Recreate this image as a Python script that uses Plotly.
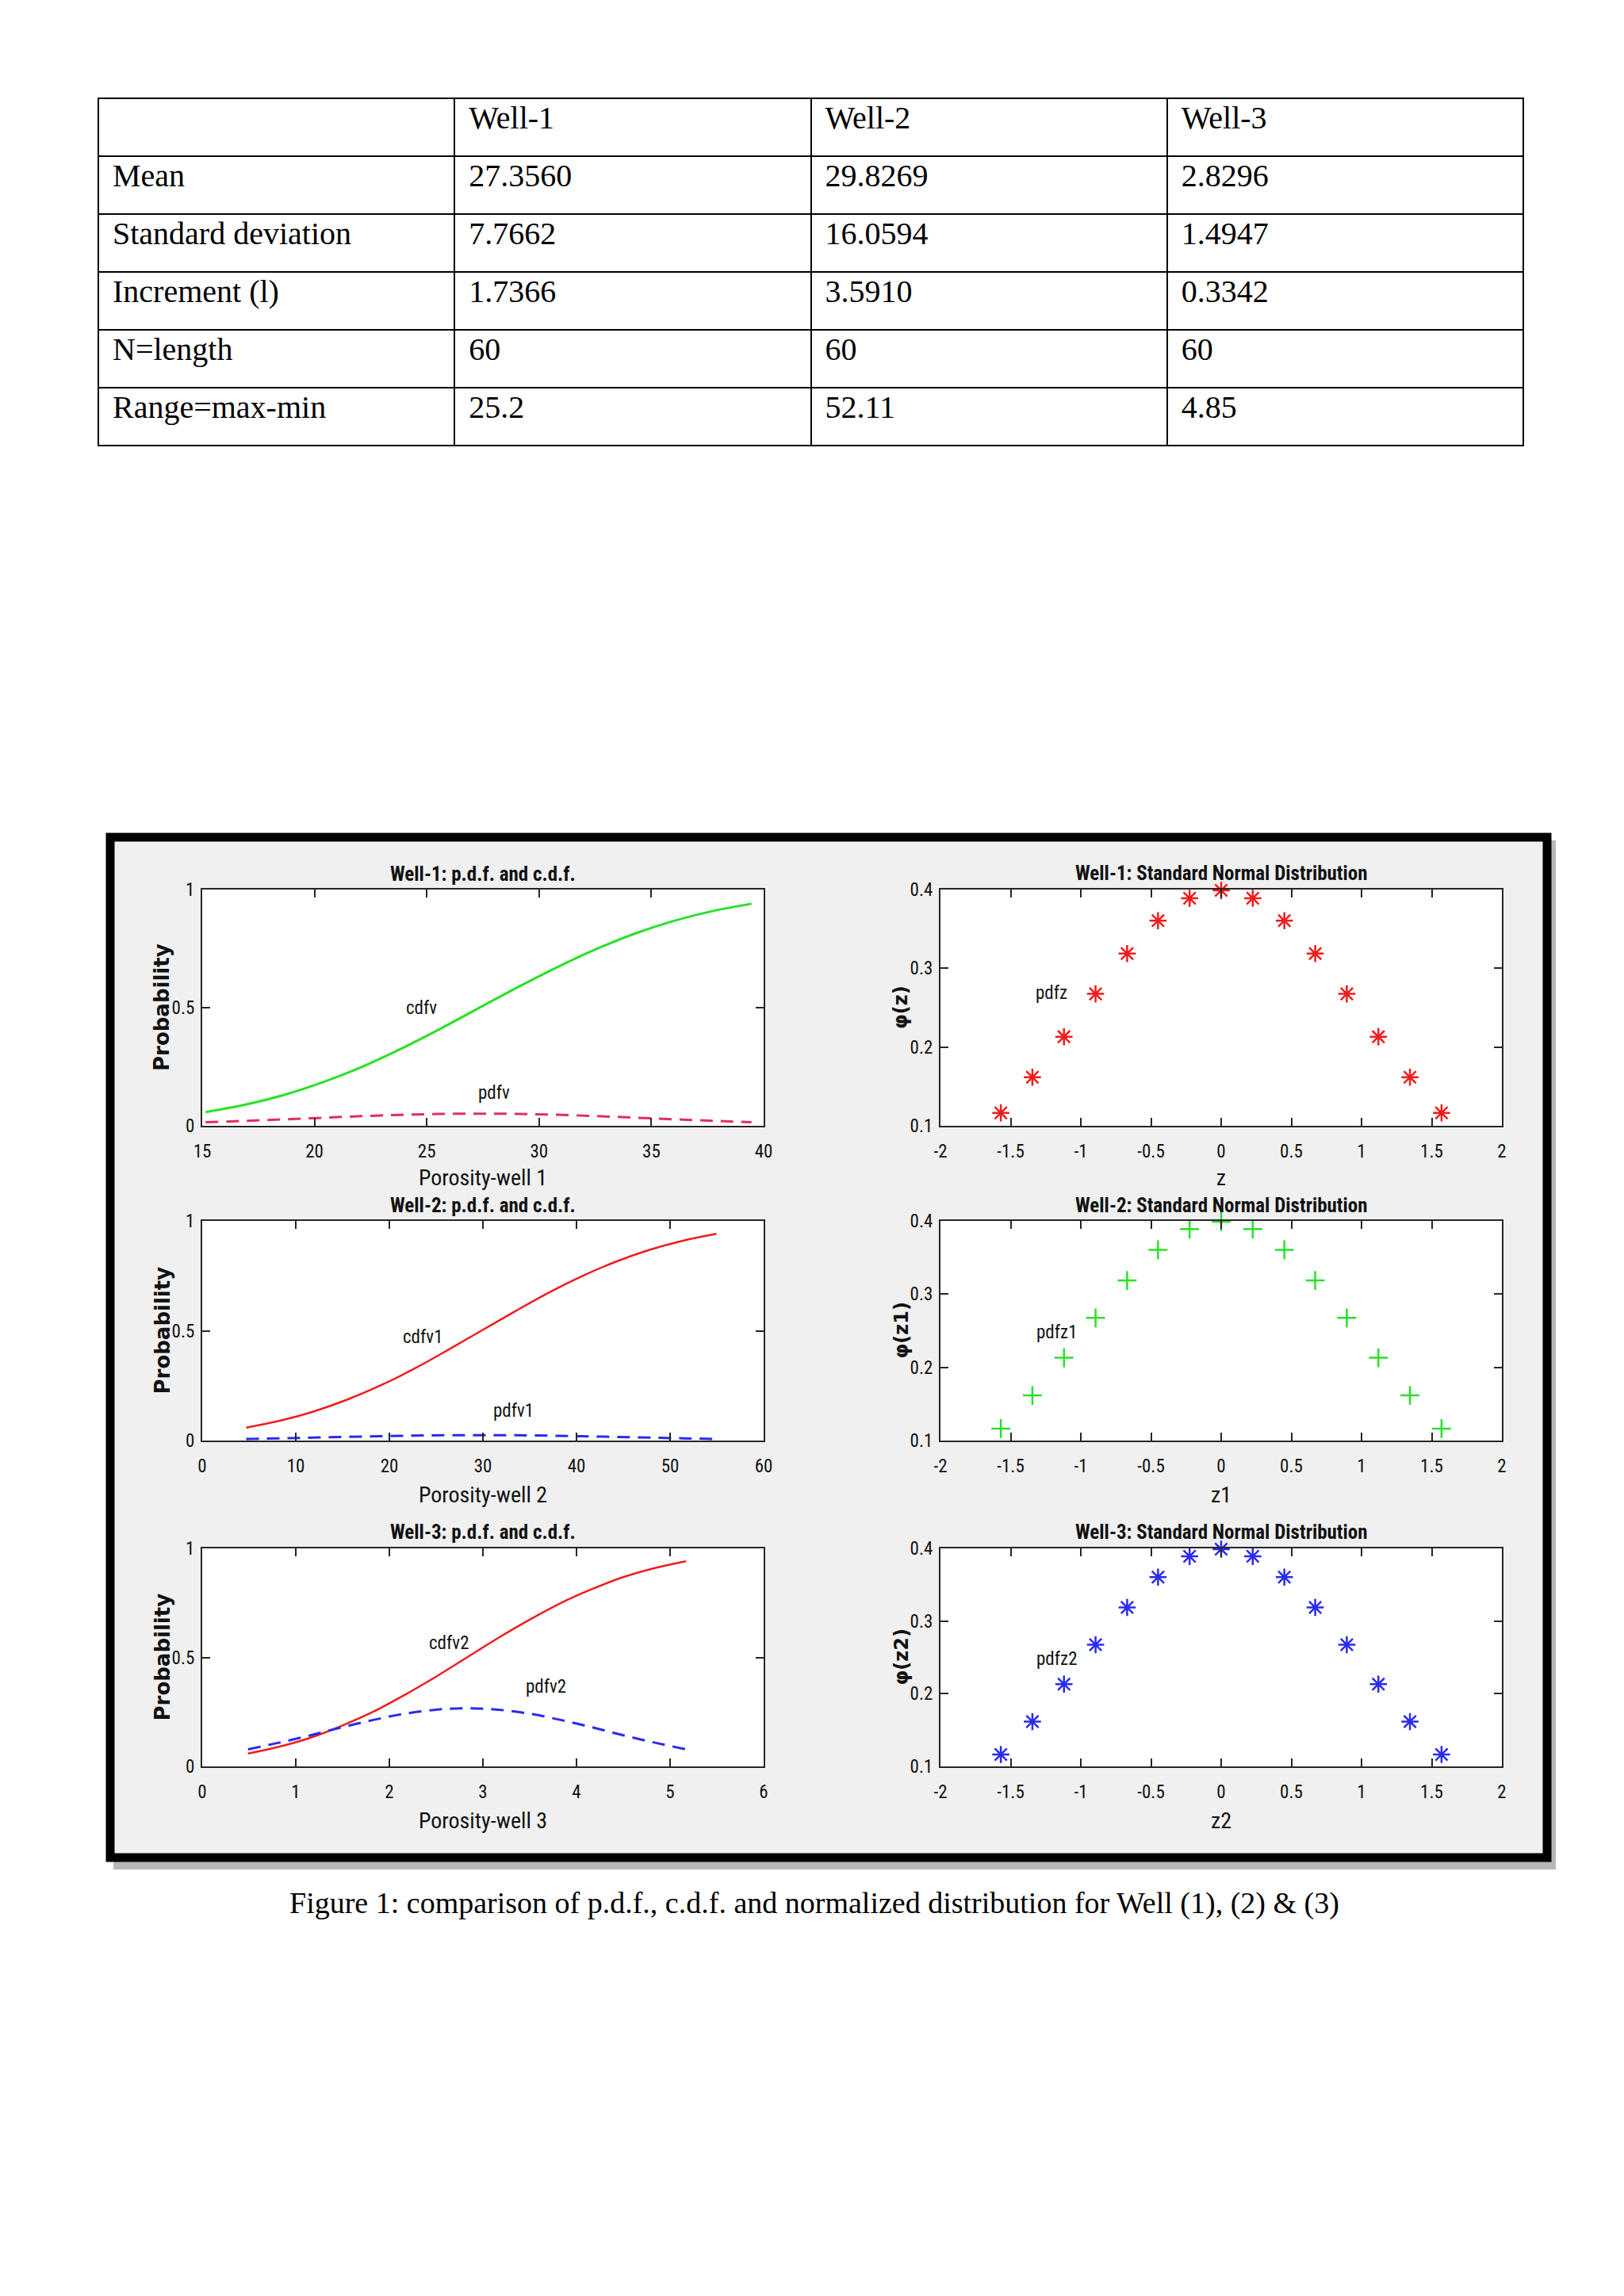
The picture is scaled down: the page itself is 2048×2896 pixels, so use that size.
import plotly.graph_objects as go

W, H = 2048, 2896

# ---------------- data ----------------
table_header = ["", "Well-1", "Well-2", "Well-3"]
row_labels = ["Mean", "Standard deviation", "Increment (l)", "N=length", "Range=max-min"]
well1_stats = ["27.3560", "7.7662", "1.7366", "60", "25.2"]
well2_stats = ["29.8269", "16.0594", "3.5910", "60", "52.11"]
well3_stats = ["2.8296", "1.4947", "0.3342", "60", "4.85"]

porosity1 = [15.15, 16.89, 18.62, 20.36, 22.10, 23.83, 25.57, 27.31, 29.04, 30.78, 32.52, 34.25, 35.99, 37.73, 39.46]
cdfv = [0.058, 0.089, 0.130, 0.184, 0.249, 0.325, 0.409, 0.498, 0.586, 0.670, 0.747, 0.813, 0.867, 0.909, 0.940]
pdfv = [0.0149, 0.0207, 0.0273, 0.0342, 0.0409, 0.0463, 0.0500, 0.0514, 0.0502, 0.0466, 0.0412, 0.0346, 0.0277, 0.0210, 0.0152]

porosity2 = [4.70, 8.29, 11.88, 15.47, 19.06, 22.65, 26.24, 29.83, 33.42, 37.01, 40.60, 44.19, 47.78, 51.37, 54.96]
cdfv1 = [0.059, 0.090, 0.132, 0.186, 0.251, 0.327, 0.412, 0.500, 0.588, 0.673, 0.749, 0.814, 0.868, 0.910, 0.941]
pdfv1 = [0.0073, 0.0101, 0.0133, 0.0167, 0.0198, 0.0225, 0.0242, 0.0248, 0.0242, 0.0225, 0.0198, 0.0167, 0.0133, 0.0101, 0.0073]

porosity3 = [0.49, 0.82, 1.16, 1.49, 1.83, 2.16, 2.50, 2.83, 3.16, 3.50, 3.83, 4.17, 4.50, 4.84, 5.17]
cdfv2 = [0.059, 0.090, 0.132, 0.186, 0.251, 0.327, 0.412, 0.500, 0.588, 0.673, 0.749, 0.814, 0.868, 0.910, 0.941]
pdfv2 = [0.0785, 0.1086, 0.1428, 0.1790, 0.2131, 0.2415, 0.2603, 0.2669, 0.2603, 0.2415, 0.2131, 0.1790, 0.1428, 0.1086, 0.0785]

z = [-1.57, -1.345, -1.12, -0.895, -0.67, -0.45, -0.225, 0.0, 0.225, 0.45, 0.67, 0.895, 1.12, 1.345, 1.57]
pdfz = [0.1163, 0.1617, 0.2131, 0.2675, 0.3187, 0.3605, 0.3890, 0.3989, 0.3890, 0.3605, 0.3187, 0.2675, 0.2131, 0.1617, 0.1163]
z1 = [-1.57, -1.345, -1.12, -0.895, -0.67, -0.45, -0.225, 0.0, 0.225, 0.45, 0.67, 0.895, 1.12, 1.345, 1.57]
pdfz1 = [0.1163, 0.1617, 0.2131, 0.2675, 0.3187, 0.3605, 0.3890, 0.3989, 0.3890, 0.3605, 0.3187, 0.2675, 0.2131, 0.1617, 0.1163]
z2 = [-1.57, -1.345, -1.12, -0.895, -0.67, -0.45, -0.225, 0.0, 0.225, 0.45, 0.67, 0.895, 1.12, 1.345, 1.57]
pdfz2 = [0.1163, 0.1617, 0.2131, 0.2675, 0.3187, 0.3605, 0.3890, 0.3989, 0.3890, 0.3605, 0.3187, 0.2675, 0.2131, 0.1617, 0.1163]

prob_ticks = [0, 0.5, 1]
prob_ticklabels = ["0", "0.5", "1"]
phi_ticks = [0.1, 0.2, 0.3, 0.4]
phi_ticklabels = ["0.1", "0.2", "0.3", "0.4"]
well1_ticks = [15, 20, 25, 30, 35, 40]
well1_ticklabels = ["15", "20", "25", "30", "35", "40"]
well2_ticks = [0, 10, 20, 30, 40, 50, 60]
well2_ticklabels = ["0", "10", "20", "30", "40", "50", "60"]
well3_ticks = [0, 1, 2, 3, 4, 5, 6]
well3_ticklabels = ["0", "1", "2", "3", "4", "5", "6"]
z_ticks = [-2, -1.5, -1, -0.5, 0, 0.5, 1, 1.5, 2]
z_ticklabels = ["-2", "-1.5", "-1", "-0.5", "0", "0.5", "1", "1.5", "2"]

# ---------------- helpers ----------------
def px(x):
    return x / W

def py(y):
    return 1 - y / H

NARROW = "Roboto Condensed, Open Sans Condensed, Liberation Sans, sans-serif"
WIDE = "DejaVu Sans, sans-serif"
SERIF = "Liberation Serif, Times New Roman, serif"
AXC = "#262626"
NB = "\u00a0"

fig = go.Figure()

# table
fig.add_trace(go.Table(
    domain=dict(x=[px(124), px(1921)], y=[py(570), py(124)]),
    columnwidth=[1, 1, 1, 1],
    header=dict(values=[NB + v for v in table_header], height=73, align="left",
                line=dict(color="black", width=2), fill=dict(color="white"),
                font=dict(family=SERIF, size=40, color="black")),
    cells=dict(values=[[NB + v for v in col] for col in [row_labels, well1_stats, well2_stats, well3_stats]],
               height=73, align="left", line=dict(color="black", width=2), fill=dict(color="white"),
               font=dict(family=SERIF, size=40, color="black")),
))

boxes = {
    1: (255, 963, 1122, 1420),
    2: (1186, 1894, 1122, 1420),
    3: (255, 963, 1540, 1817),
    4: (1186, 1894, 1540, 1817),
    5: (255, 963, 1953, 2228),
    6: (1186, 1894, 1953, 2228),
}

RED = "#f01c1c"
GREEN = "#2ae02a"
BLUE = "#2a2af0"
DASH = "16px,10px"

fig.add_trace(go.Scatter(x=porosity1, y=cdfv, mode="lines", line=dict(color=GREEN, width=3, shape="spline"),
                         xaxis="x", yaxis="y", showlegend=False))
fig.add_trace(go.Scatter(x=porosity1, y=pdfv, mode="lines", line=dict(color="#e0305a", width=3, dash=DASH, shape="spline"),
                         xaxis="x", yaxis="y", showlegend=False))
fig.add_trace(go.Scatter(x=z, y=pdfz, mode="markers", cliponaxis=False,
                         marker=dict(symbol="asterisk-open", size=18, color=RED, line=dict(width=2.5, color=RED)),
                         xaxis="x2", yaxis="y2", showlegend=False))
fig.add_trace(go.Scatter(x=porosity2, y=cdfv1, mode="lines", line=dict(color=RED, width=2.5, shape="spline"),
                         xaxis="x3", yaxis="y3", showlegend=False))
fig.add_trace(go.Scatter(x=porosity2, y=pdfv1, mode="lines", line=dict(color=BLUE, width=3, dash=DASH, shape="spline"),
                         xaxis="x3", yaxis="y3", showlegend=False))
fig.add_trace(go.Scatter(x=z1, y=pdfz1, mode="markers", cliponaxis=False,
                         marker=dict(symbol="cross-thin-open", size=17, color=GREEN, line=dict(width=2.5, color=GREEN)),
                         xaxis="x4", yaxis="y4", showlegend=False))
fig.add_trace(go.Scatter(x=porosity3, y=cdfv2, mode="lines", line=dict(color=RED, width=2.5, shape="spline"),
                         xaxis="x5", yaxis="y5", showlegend=False))
fig.add_trace(go.Scatter(x=porosity3, y=pdfv2, mode="lines", line=dict(color=BLUE, width=3, dash=DASH, shape="spline"),
                         xaxis="x5", yaxis="y5", showlegend=False))
fig.add_trace(go.Scatter(x=z2, y=pdfz2, mode="markers", cliponaxis=False,
                         marker=dict(symbol="asterisk-open", size=18, color=BLUE, line=dict(width=2.5, color=BLUE)),
                         xaxis="x6", yaxis="y6", showlegend=False))

axis_common = dict(showline=True, linecolor=AXC, linewidth=2, mirror="ticks", ticks="inside",
                   ticklen=10, tickwidth=2, tickcolor=AXC, showgrid=False, zeroline=False, automargin=False,
                   tickfont=dict(family=NARROW, size=23, color="#111111"))

xcfg = {
    1: (well1_ticks, well1_ticklabels, [15, 40], "Porosity-well 1"),
    2: (z_ticks, z_ticklabels, [-2, 2], "z"),
    3: (well2_ticks, well2_ticklabels, [0, 60], "Porosity-well 2"),
    4: (z_ticks, z_ticklabels, [-2, 2], "z1"),
    5: (well3_ticks, well3_ticklabels, [0, 6], "Porosity-well 3"),
    6: (z_ticks, z_ticklabels, [-2, 2], "z2"),
}
ycfg = {
    1: (prob_ticks, prob_ticklabels, [0, 1], "Probability"),
    2: (phi_ticks, phi_ticklabels, [0.1, 0.4], "\u03c6(z)"),
    3: (prob_ticks, prob_ticklabels, [0, 1], "Probability"),
    4: (phi_ticks, phi_ticklabels, [0.1, 0.4], "\u03c6(z1)"),
    5: (prob_ticks, prob_ticklabels, [0, 1], "Probability"),
    6: (phi_ticks, phi_ticklabels, [0.1, 0.4], "\u03c6(z2)"),
}

annotations = []
layout_axes = {}
for i in range(1, 7):
    x0, x1, yt, yb = boxes[i]
    xn = "xaxis" if i == 1 else f"xaxis{i}"
    yn = "yaxis" if i == 1 else f"yaxis{i}"
    tv, tt, rg, ttl = xcfg[i]
    layout_axes[xn] = dict(axis_common, domain=[px(x0), px(x1)], anchor=("y" if i == 1 else f"y{i}"),
                           range=rg, tickvals=tv, ticktext=tt, ticklabelstandoff=10,
                           title=dict(text=ttl, standoff=(11 if i <= 2 else 14),
                                      font=dict(family=NARROW, size=28, color="#111111")))
    tv, tt, rg, ttl = ycfg[i]
    layout_axes[yn] = dict(axis_common, domain=[py(yb), py(yt)], anchor=("x" if i == 1 else f"x{i}"),
                           range=rg, tickvals=tv, ticktext=tt, ticklabelstandoff=3)
    # y-axis titles placed as rotated annotations beside the axes
    annotations.append(dict(text=ttl, x=px(204 if i % 2 == 1 else 1136), y=py((yt + yb) / 2),
                            xref="paper", yref="paper", showarrow=False, textangle=-90,
                            xanchor="center", yanchor="middle",
                            font=dict(family=WIDE, size=(26 if i % 2 == 1 else 24), color="#111111", weight="bold")))

shapes = [
    dict(type="rect", xref="paper", yref="paper", x0=px(143), x1=px(1962), y0=py(2358), y1=py(1060),
         fillcolor="#b8b8b8", line=dict(width=0), layer="below"),
    dict(type="rect", xref="paper", yref="paper", x0=px(139), x1=px(1951), y0=py(2343), y1=py(1056),
         fillcolor="#f0f0f0", line=dict(color="black", width=11), layer="below"),
]
for i in range(1, 7):
    xr = "x" if i == 1 else f"x{i}"
    yr = "y" if i == 1 else f"y{i}"
    shapes.append(dict(type="rect", xref=f"{xr} domain", yref=f"{yr} domain", x0=0, x1=1, y0=0, y1=1,
                       fillcolor="white", line=dict(width=0), layer="below"))

TITLE_FONT = dict(family=NARROW, size=25, color="#111111", weight="bold")
titles = [
    ("Well-1: p.d.f. and c.d.f.", 609, 1102),
    ("Well-1: Standard Normal Distribution", 1540, 1101),
    ("Well-2: p.d.f. and c.d.f.", 609, 1520),
    ("Well-2: Standard Normal Distribution", 1540, 1520),
    ("Well-3: p.d.f. and c.d.f.", 609, 1932),
    ("Well-3: Standard Normal Distribution", 1540, 1932),
]
for t, x, y in titles:
    annotations.append(dict(text=t, x=px(x), y=py(y), xref="paper", yref="paper", showarrow=False,
                            xanchor="center", yanchor="middle", font=TITLE_FONT))

LBL = dict(family=NARROW, size=23, color="#111111")
labels = [
    ("cdfv", 24.75, 0.50, "x", "y"),
    ("pdfv", 28.0, 0.14, "x", "y"),
    ("pdfz", -1.21, 0.269, "x2", "y2"),
    ("cdfv1", 23.6, 0.47, "x3", "y3"),
    ("pdfv1", 33.3, 0.134, "x3", "y3"),
    ("pdfz1", -1.17, 0.248, "x4", "y4"),
    ("cdfv2", 2.64, 0.567, "x5", "y5"),
    ("pdfv2", 3.67, 0.367, "x5", "y5"),
    ("pdfz2", -1.17, 0.248, "x6", "y6"),
]
for t, x, y, xr, yr in labels:
    annotations.append(dict(text=t, x=x, y=y, xref=xr, yref=yr, showarrow=False,
                            xanchor="center", yanchor="middle", font=LBL))

annotations.append(dict(text="Figure 1: comparison of p.d.f., c.d.f. and normalized distribution for Well (1), (2) & (3)",
                        x=px(1027), y=py(2400), xref="paper", yref="paper", showarrow=False,
                        xanchor="center", yanchor="middle", font=dict(family=SERIF, size=38, color="black")))

fig.update_layout(
    width=W, height=H, margin=dict(l=0, r=0, t=0, b=0, pad=0, autoexpand=False),
    paper_bgcolor="white", plot_bgcolor="white",
    shapes=shapes, annotations=annotations, showlegend=False,
    **layout_axes,
)

fig.write_html("out.html", config={"displayModeBar": False},
               post_script="document.body.style.margin='0';document.body.style.overflow='hidden';")
